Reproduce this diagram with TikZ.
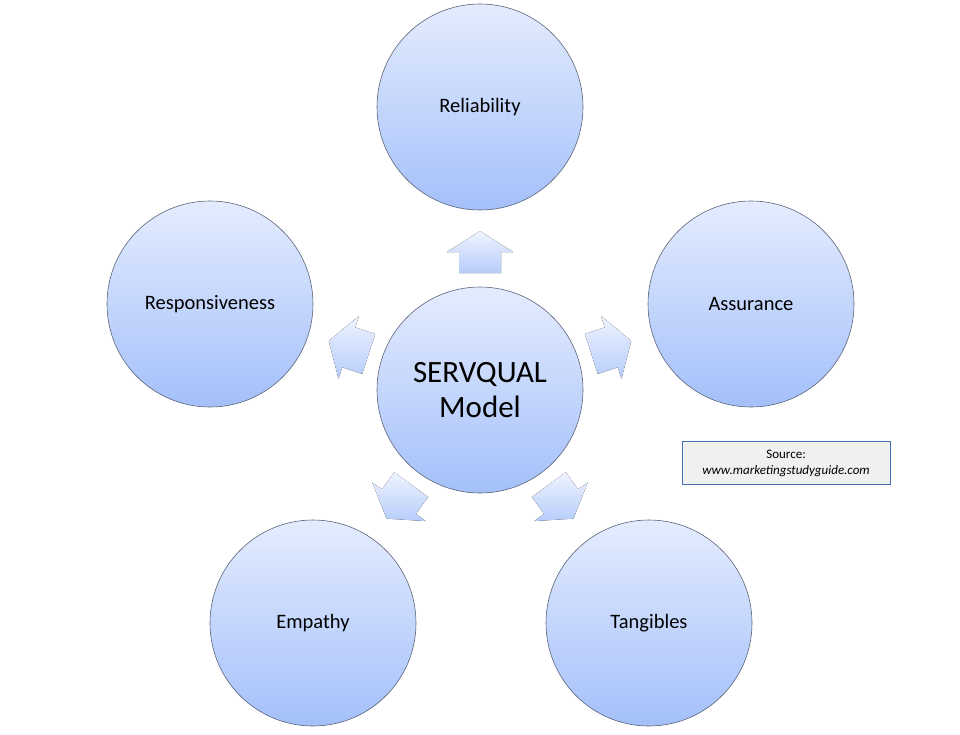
\documentclass[tikz,border=0pt]{standalone}
\usepackage{fontspec}
\setmainfont{Carlito}
\usepackage{tikz}
\usetikzlibrary{positioning}

\definecolor{cTop}{RGB}{228,236,254}
\definecolor{cBot}{RGB}{164,192,250}
\definecolor{cRim}{RGB}{90,100,120}
\definecolor{boxRim}{RGB}{70,110,180}
\definecolor{boxFill}{RGB}{240,240,240}

\tikzset{
  dim/.style={circle,draw=cRim,line width=0.6pt,minimum size=206pt,
    inner sep=0pt,top color=cTop,bottom color=cBot,font=\fontsize{20.5}{24}\selectfont},
  blockarrow/.style={top color=cTop!60!white,bottom color=cBot!80!white,draw=none}
}

\begin{document}
\begin{tikzpicture}[x=1pt,y=-1pt]
  \useasboundingbox (0,0) rectangle (960,734);

  % circles
  \node[dim,font=\fontsize{31}{35}\selectfont,align=center] (core) at (480,390) {SERVQUAL\\Model};
  \node[dim] (rel) at (480,107) {Reliability};
  \node[dim] (ass) at (751,304) {Assurance};
  \node[dim] (res) at (210,304) {Responsiveness};
  \node[dim] (emp) at (313,623) {Empathy};
  \node[dim] (tan) at (649,623) {Tangibles};

  % arrows
  \foreach \a in {0,72,144,216,288} {
    \begin{scope}[rotate around={\a:(480,390)}]
      \fill[blockarrow] (459,273) -- (459,252) -- (447,252) -- (480,231)
        -- (513,252) -- (501,252) -- (501,273) -- cycle;
    \end{scope}
  }

  % source
  \node[draw=boxRim,fill=boxFill,minimum width=208pt,minimum height=43pt,
    align=center,font=\fontsize{13}{16}\selectfont] (src) at (786,463)
    {Source:\\\textit{www.marketingstudyguide.com}};
\end{tikzpicture}
\end{document}
